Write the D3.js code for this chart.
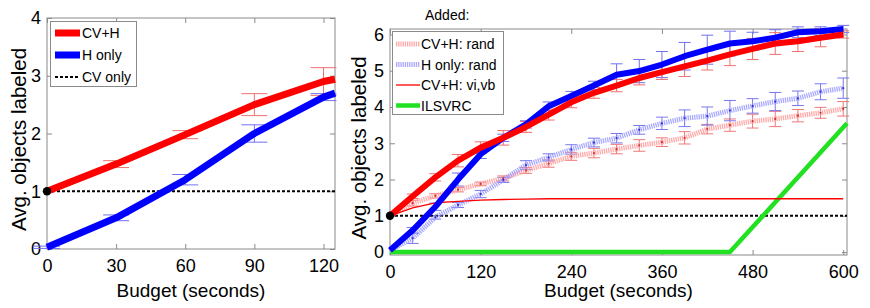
<!DOCTYPE html>
<html><head><meta charset="utf-8">
<script src="https://cdn.jsdelivr.net/npm/d3@7"></script>
<style>
html,body{margin:0;padding:0;background:#fff;}
svg{display:block;font-family:"Liberation Sans",Arial,Helvetica,sans-serif;}
</style></head>
<body>
<svg id="chart" width="870" height="308"></svg>
<script>
// ---------- Left panel data ----------
const leftX = [0, 30, 60, 90, 120, 125];
const leftCVH = [1.0, 1.47, 1.98, 2.5, 2.9, 2.94];
const leftCVHErr = [null, 0.06, 0.07, 0.19, 0.24, null];
const leftH = [0.03, 0.54, 1.2, 2.0, 2.63, 2.7];
const leftHErr = [0.02, 0.05, 0.09, 0.15, 0.06, null];
const leftCVonly = [1, 1];
const leftCVonlyX = [0, 125];
const leftXTicks = [0, 30, 60, 90, 120];
const leftYTicks = [0, 1, 2, 3, 4];
const leftLegend = ["CV+H", "H only", "CV only"];

// ---------- Right panel data ----------
const rightX = [0,30,60,90,120,150,180,210,240,270,300,330,360,390,420,450,480,510,540,570,600];
const rCVH = [1.0,1.54,2.06,2.52,2.88,3.15,3.45,3.79,4.13,4.39,4.59,4.80,4.96,5.12,5.28,5.45,5.60,5.75,5.81,5.91,6.0];
const rCVHErr = [0,0.06,0.1,0.17,0.16,0.2,0.15,0.15,0.15,0.15,0.17,0.19,0.2,0.28,0.26,0.31,0.29,0.3,0.28,0.25,0.1];
const rH = [0.05,0.6,1.25,2.0,2.7,3.15,3.52,4.02,4.30,4.59,4.89,4.99,5.17,5.40,5.58,5.75,5.81,5.91,6.06,6.09,6.15];
const rHErr = [0,0.08,0.1,0.18,0.12,0.1,0.1,0.12,0.13,0.12,0.3,0.32,0.36,0.38,0.4,0.34,0.25,0.22,0.15,0.12,0.1];
const rCVHRand = [1.0,1.35,1.55,1.72,1.88,2.03,2.25,2.44,2.64,2.73,2.84,2.94,3.03,3.15,3.39,3.50,3.61,3.67,3.76,3.84,3.95];
const rCVHRandErr = [0,0.08,0.06,0.06,0.05,0.07,0.08,0.1,0.11,0.13,0.13,0.16,0.12,0.17,0.13,0.17,0.19,0.21,0.17,0.15,0.2];
const rHRand = [0.05,0.38,0.96,1.30,1.60,1.99,2.40,2.61,2.83,3.02,3.14,3.37,3.55,3.69,3.75,3.90,4.03,4.15,4.24,4.42,4.52];
const rHRandErr = [0,0.14,0.05,0.07,0.1,0.07,0.12,0.1,0.13,0.12,0.13,0.12,0.17,0.23,0.25,0.28,0.2,0.25,0.2,0.22,0.28];
const rVIVB = [1.0,1.22,1.36,1.40,1.43,1.45,1.46,1.47,1.47,1.47,1.47,1.47,1.47,1.47,1.47,1.47,1.47,1.47,1.47,1.47,1.47];
const ilsvrcX = [0, 450, 605];
const ilsvrcY = [0, 0, 3.55];
const rightCVonlyX = [0, 605];
const rightCVonly = [1, 1];
const rightXTicks = [0, 120, 240, 360, 480, 600];
const rightYTicks = [0, 1, 2, 3, 4, 5, 6];
const rightLegend = ["CV+H: rand", "H only: rand", "CV+H: vi,vb", "ILSVRC"];

const svg = d3.select("#chart");
svg.append("rect").attr("width",870).attr("height",308).attr("fill","#fff");

const FRAME = "#8a8a8a";

function drawFrame(g, x, y, xTicks, yTicks, xlabel, ylabelX) {
  const [x0, x1] = x.range(), [y0, y1] = y.range();
  const tl = 5;
  g.append("g").attr("transform",`translate(0,${y0})`)
    .call(d3.axisBottom(x).tickValues(xTicks).tickSize(-tl).tickPadding(10).tickFormat(d3.format("d")))
    .call(a=>{a.select(".domain").remove(); a.selectAll("line").attr("stroke",FRAME);
      a.selectAll("text").attr("font-size",18).attr("fill","#000").attr("font-family","Liberation Sans, Arial");});
  g.append("g").attr("transform",`translate(0,${y1})`)
    .call(d3.axisTop(x).tickValues(xTicks).tickSize(-tl).tickFormat(""))
    .call(a=>{a.select(".domain").remove(); a.selectAll("line").attr("stroke",FRAME);});
  g.append("g").attr("transform",`translate(${x0},0)`)
    .call(d3.axisLeft(y).tickValues(yTicks).tickSize(-tl).tickPadding(6).tickFormat(d3.format("d")))
    .call(a=>{a.select(".domain").remove(); a.selectAll("line").attr("stroke",FRAME);
      a.selectAll("text").attr("font-size",18).attr("fill","#000").attr("font-family","Liberation Sans, Arial");});
  g.append("g").attr("transform",`translate(${x1},0)`)
    .call(d3.axisRight(y).tickValues(yTicks).tickSize(-tl).tickFormat(""))
    .call(a=>{a.select(".domain").remove(); a.selectAll("line").attr("stroke",FRAME);});
  g.append("rect").attr("x",x0).attr("y",y1).attr("width",x1-x0).attr("height",y0-y1)
    .attr("fill","none").attr("stroke",FRAME).attr("stroke-width",1);
  g.append("text").attr("x",(x0+x1)/2).attr("y",297).attr("text-anchor","middle")
    .attr("font-size",19).text(xlabel);
  g.append("text").attr("transform",`translate(${ylabelX},${(y0+y1)/2 + 6}) rotate(-90)`)
    .attr("text-anchor","middle").attr("font-size",20.5).text("Avg. objects labeled");
}

function errorBars(g, x, y, xs, ys, errs, color, half) {
  xs.forEach((t,i)=>{
    const e = errs[i];
    if (e == null || e === 0) return;
    const cx = x(t), top = y(ys[i]+e), bot = y(ys[i]-e);
    g.append("line").attr("x1",cx).attr("x2",cx).attr("y1",top).attr("y2",bot).attr("stroke",color).attr("stroke-width",1);
    g.append("line").attr("x1",cx-half).attr("x2",cx+half).attr("y1",top).attr("y2",top).attr("stroke",color).attr("stroke-width",1);
    g.append("line").attr("x1",cx-half).attr("x2",cx+half).attr("y1",bot).attr("y2",bot).attr("stroke",color).attr("stroke-width",1);
  });
}

function path(g, x, y, xs, ys, attrs) {
  const line = d3.line().x(d=>x(d[0])).y(d=>y(d[1]));
  const p = g.append("path").attr("d", line(xs.map((t,i)=>[t,ys[i]]))).attr("fill","none")
    .attr("stroke-linejoin","round");
  Object.entries(attrs).forEach(([k,v])=>p.attr(k,v));
  return p;
}

// ---------- Left panel ----------
{
  const x = d3.scaleLinear([0,125],[47,335]);
  const y = d3.scaleLinear([0,4],[249,18]);
  const g = svg.append("g");
  drawFrame(g, x, y, leftXTicks, leftYTicks, "Budget (seconds)", 26);
  const clip = g.append("g");
  errorBars(clip, x, y, leftX, leftCVH, leftCVHErr, "#f07070", 13);
  errorBars(clip, x, y, leftX, leftH, leftHErr, "#7070f0", 13);
  path(clip, x, y, leftCVonlyX, leftCVonly, {stroke:"#000","stroke-width":2,"stroke-dasharray":"3,2"});
  path(clip, x, y, leftX, leftH, {stroke:"#0000ff","stroke-width":7});
  path(clip, x, y, leftX, leftCVH, {stroke:"#ff0000","stroke-width":7});
  clip.append("circle").attr("cx",x(0)).attr("cy",y(1)).attr("r",4.2).attr("fill","#000");
  const lg = g.append("g");
  lg.append("rect").attr("x",50.5).attr("y",21.5).attr("width",86).attr("height",65)
    .attr("fill","#fff").attr("stroke",FRAME);
  const styles = [
    {stroke:"#ff0000","stroke-width":7},
    {stroke:"#0000ff","stroke-width":7},
    {stroke:"#000","stroke-width":2,"stroke-dasharray":"3,2"}
  ];
  leftLegend.forEach((name,i)=>{
    const yy = 33 + i*22;
    const l = lg.append("line").attr("x1",55).attr("x2",80).attr("y1",yy).attr("y2",yy);
    Object.entries(styles[i]).forEach(([k,v])=>l.attr(k,v));
    lg.append("text").attr("x",82).attr("y",yy+5).attr("font-size",14).text(name);
  });
}

// ---------- Right panel ----------
{
  const x = d3.scaleLinear([0,605],[390,847]);
  const y = d3.scaleLinear([-0.08,6.15],[255,29]);
  const g = svg.append("g");
  drawFrame(g, x, y, rightXTicks, rightYTicks, "Budget (seconds)", 366);
  g.append("text").attr("x",425).attr("y",20).attr("font-size",14).text("Added:");
  const p = g.append("g");
  errorBars(p, x, y, rightX, rCVHRand, rCVHRandErr, "#f07878", 6);
  errorBars(p, x, y, rightX, rHRand, rHRandErr, "#7878f0", 6);
  errorBars(p, x, y, rightX, rH, rHErr, "#7070f0", 6);
  errorBars(p, x, y, rightX, rCVH, rCVHErr, "#f07070", 6);
  path(p, x, y, rightCVonlyX, rightCVonly, {stroke:"#000","stroke-width":2,"stroke-dasharray":"3,2"});
  path(p, x, y, ilsvrcX, ilsvrcY, {stroke:"#22e022","stroke-width":4.5});
  path(p, x, y, rightX, rCVHRand, {stroke:"#ff9a9a","stroke-width":5,"stroke-dasharray":"1.3,0.9","stroke-opacity":0.85});
  path(p, x, y, rightX, rHRand, {stroke:"#9a9aff","stroke-width":5,"stroke-dasharray":"1.3,0.9","stroke-opacity":0.85});
  rightX.forEach((t,i)=>{
    if (i===0) return;
    p.append("circle").attr("cx",x(t)).attr("cy",y(rCVHRand[i])).attr("r",1.1).attr("fill","#d03030");
    p.append("circle").attr("cx",x(t)).attr("cy",y(rHRand[i])).attr("r",1.1).attr("fill","#3030d0");
  });
  path(p, x, y, rightX, rVIVB, {stroke:"#ff0000","stroke-width":1.3});
  path(p, x, y, rightX, rH, {stroke:"#0000ff","stroke-width":6});
  path(p, x, y, rightX, rCVH, {stroke:"#ff0000","stroke-width":6});
  p.append("circle").attr("cx",x(0)).attr("cy",y(1)).attr("r",4.2).attr("fill","#000");
  const lg = g.append("g");
  lg.append("rect").attr("x",392.5).attr("y",31.5).attr("width",111).attr("height",83)
    .attr("fill","#fff").attr("stroke",FRAME);
  const styles = [
    {stroke:"#ff9a9a","stroke-width":5,"stroke-dasharray":"1.3,0.9","stroke-opacity":0.85},
    {stroke:"#9a9aff","stroke-width":5,"stroke-dasharray":"1.3,0.9","stroke-opacity":0.85},
    {stroke:"#ff0000","stroke-width":1.3},
    {stroke:"#22e022","stroke-width":4.5}
  ];
  rightLegend.forEach((name,i)=>{
    const yy = 44 + i*20.5;
    const l = lg.append("line").attr("x1",396).attr("x2",420).attr("y1",yy).attr("y2",yy);
    Object.entries(styles[i]).forEach(([k,v])=>l.attr(k,v));
    lg.append("text").attr("x",421).attr("y",yy+5).attr("font-size",14).text(name);
  });
}
</script>
</body></html>
